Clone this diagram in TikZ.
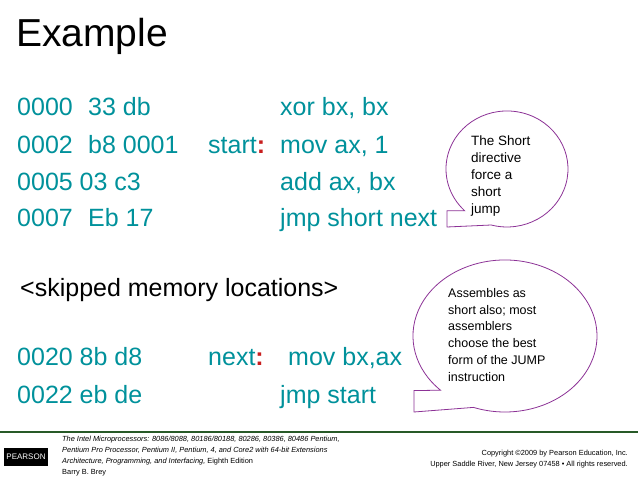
\documentclass[tikz,border=0pt]{standalone}
\usepackage{fontspec}
\setmainfont{Liberation Sans}
\definecolor{teal1}{RGB}{0,145,155}
\definecolor{red1}{RGB}{200,30,30}
\definecolor{purp}{RGB}{140,50,150}
\definecolor{grn}{RGB}{40,90,40}
\begin{document}
\begin{tikzpicture}[x=1pt,y=-1pt,
  code/.style={anchor=base west,inner sep=0,text=teal1,font=\fontsize{25}{25}\selectfont},
  note/.style={anchor=north west,inner sep=0,align=left,font=\fontsize{13.5}{17}\selectfont},
  callout/.style={draw=purp,line width=0.8pt,fill=white},
  foot/.style={inner sep=0,align=left,font=\fontsize{7.4}{11}\selectfont}]
\useasboundingbox (0,0) rectangle (638,478);
\node[anchor=base west,inner sep=0,font=\fontsize{39}{39}\selectfont] (title) at (16,47) {Example};
% code
\node[code] (a1) at (17,116) {0000};
\node[code] (b1) at (88,116) {33 db};
\node[code] (i1) at (280,116) {xor bx, bx};
\node[code] (a2) at (17,154) {0002};
\node[code] (b2) at (88,154) {b8 0001};
\node[code] (l2) at (208,154) {start\textcolor{red1}{\bfseries :}};
\node[code] (i2) at (280,154) {mov ax, 1};
\node[code] (a3) at (17,191) {0005 03 c3};
\node[code] (i3) at (280,191) {add ax, bx};
\node[code] (a4) at (17,227) {0007};
\node[code] (b4) at (88,227) {Eb 17};
\node[code] (i4) at (280,227) {jmp short next};
\node[anchor=base west,inner sep=0,font=\fontsize{25}{25}\selectfont] (skip) at (20,297) {<skipped memory locations>};
\node[code] (a5) at (17,366) {0020 8b d8};
\node[code] (l5) at (208,366) {next\textcolor{red1}{\bfseries :}};
\node[code] (i5) at (288,366) {mov bx,ax};
\node[code] (a6) at (17,404) {0022 eb de};
\node[code] (i6) at (280,404) {jmp start};
% callout 1
\draw[callout] (491.2,225) arc[start angle=105,end angle=-226,x radius=61,y radius=58]
  -- (447,210.7) -- (447,227) -- cycle;
\node[note] (n1) at (471,136) {The Short\\directive\\force a\\short\\jump};
% callout 2
\draw[callout] (473.5,407.4) arc[start angle=110,end angle=-225.5,x radius=92,y radius=76]
  -- (414,390.6) -- (414,412) -- cycle;
\node[note,font=\fontsize{12.5}{16.8}\selectfont] (n2) at (448,288) {Assembles as\\short also; most\\assemblers\\choose the best\\form of the JUMP\\instruction};
% footer
\draw[grn,line width=1.8pt] (0,432) -- (638,432);
\node[fill=black,text=white,minimum width=44pt,minimum height=18pt,inner sep=0,font=\fontsize{8}{8}\selectfont] (logo) at (26,457) {PEARSON};
\node[foot,anchor=north west] (f1) at (62,436) {\textit{The Intel Microprocessors: 8086/8088, 80186/80188, 80286, 80386, 80486 Pentium,}\\\textit{Pentium Pro Processor, Pentium II, Pentium, 4, and Core2 with 64-bit Extensions}\\\textit{Architecture, Programming, and Interfacing,} Eighth Edition\\Barry B. Brey};
\node[foot,anchor=north east,align=right] (f2) at (628,450) {Copyright ©2009 by Pearson Education, Inc.\\Upper Saddle River, New Jersey 07458 • All rights reserved.};
\end{tikzpicture}
\end{document}
